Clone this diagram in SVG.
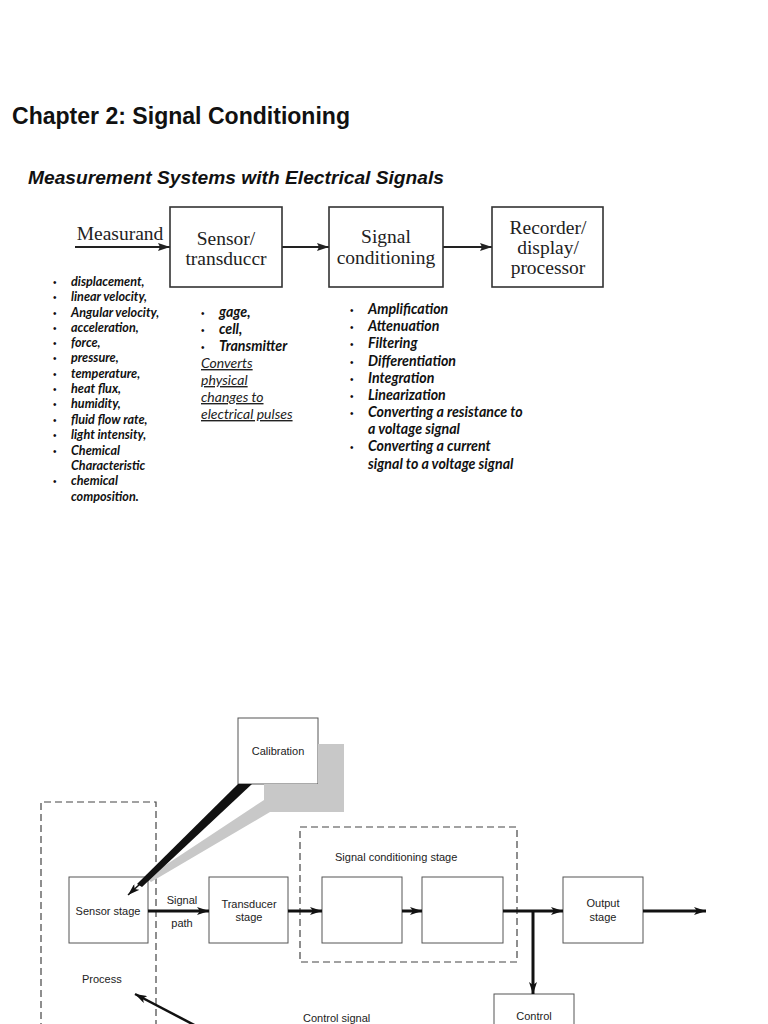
<svg xmlns="http://www.w3.org/2000/svg" width="768" height="1024" viewBox="0 0 768 1024">
<style>
.title{font-family:"Liberation Sans",Arial,sans-serif;font-weight:bold;font-size:23px;fill:#111}
.sub{font-family:"Liberation Sans",Arial,sans-serif;font-weight:bold;font-style:italic;font-size:18.5px;fill:#111}
.serif{font-family:"Liberation Serif","Times New Roman",serif;font-size:19.5px;fill:#222;text-anchor:middle}
.tbox{fill:#fff;stroke:#333;stroke-width:1.6}
.l1{font-family:Lato,"Liberation Sans",sans-serif;font-weight:bold;font-style:italic;font-size:12.6px;fill:#111}
.l2{font-family:Lato,"Liberation Sans",sans-serif;font-weight:bold;font-style:italic;font-size:14.2px;fill:#111}
.u2{font-family:Lato,"Liberation Sans",sans-serif;font-style:italic;font-size:14px;fill:#222;text-decoration:underline}
.bul{font-family:"Liberation Sans",Arial,sans-serif;font-size:10px;fill:#111}
.bbox{fill:#fff;stroke:#555;stroke-width:1}
.dash{fill:none;stroke:#444;stroke-width:1.2;stroke-dasharray:7,4}
.bt{font-family:"Liberation Sans",Arial,sans-serif;font-size:11px;fill:#222}
.btm{font-family:"Liberation Sans",Arial,sans-serif;font-size:11px;fill:#222;text-anchor:middle}
.thick{stroke:#111;stroke-width:3;fill:none;marker-end:url(#ah)}
.thin{stroke:#222;stroke-width:2;fill:none;marker-end:url(#ah2)}
</style>
<defs>
<marker id="ah" markerUnits="userSpaceOnUse" viewBox="0 0 12 8" refX="12" refY="4" markerWidth="12" markerHeight="8" orient="auto">
<path d="M0,0 L12,4 L0,8 L3,4 Z" fill="#111"/>
</marker>
<marker id="ah2" markerUnits="userSpaceOnUse" viewBox="0 0 12 8" refX="12" refY="4" markerWidth="12" markerHeight="8" orient="auto">
<path d="M0,0 L12,4 L0,8 L2,4 Z" fill="#222"/>
</marker>
</defs>
<rect width="768" height="1024" fill="#fff"/>

<text class="title" x="12" y="124" textLength="338" lengthAdjust="spacingAndGlyphs">Chapter 2: Signal Conditioning</text>
<text class="sub" x="28" y="184" textLength="416" lengthAdjust="spacingAndGlyphs">Measurement Systems with Electrical Signals</text>

<g id="top-connectors">
<line class="thin" x1="75" y1="247" x2="170" y2="247"/>
<line class="thin" x1="282" y1="247" x2="329" y2="247"/>
<line class="thin" x1="443" y1="247" x2="492" y2="247"/>
</g>
<g id="measurand"><text class="serif" x="120" y="240">Measurand</text></g>
<g id="sensor-transducer">
<rect class="tbox" x="170" y="207" width="112" height="80"/>
<text class="serif" x="226" y="245">Sensor/</text>
<text class="serif" x="226" y="265">transduccr</text>
</g>
<g id="signal-conditioning">
<rect class="tbox" x="329" y="207" width="114" height="80"/>
<text class="serif" x="386" y="243">Signal</text>
<text class="serif" x="386" y="264">conditioning</text>
</g>
<g id="recorder">
<rect class="tbox" x="492" y="207" width="111" height="80"/>
<text class="serif" x="548" y="234">Recorder/</text>
<text class="serif" x="548" y="254">display/</text>
<text class="serif" x="548" y="274">processor</text>
</g>

<g id="measurand-list">
<text class="bul" x="53" y="286">•</text><text class="l1" x="71" y="286">displacement,</text>
<text class="bul" x="53" y="301">•</text><text class="l1" x="71" y="301">linear velocity,</text>
<text class="bul" x="53" y="317">•</text><text class="l1" x="71" y="317">Angular velocity,</text>
<text class="bul" x="53" y="332">•</text><text class="l1" x="71" y="332">acceleration,</text>
<text class="bul" x="53" y="347">•</text><text class="l1" x="71" y="347">force,</text>
<text class="bul" x="53" y="362">•</text><text class="l1" x="71" y="362">pressure,</text>
<text class="bul" x="53" y="378">•</text><text class="l1" x="71" y="378">temperature,</text>
<text class="bul" x="53" y="393">•</text><text class="l1" x="71" y="393">heat flux,</text>
<text class="bul" x="53" y="408">•</text><text class="l1" x="71" y="408">humidity,</text>
<text class="bul" x="53" y="424">•</text><text class="l1" x="71" y="424">fluid flow rate,</text>
<text class="bul" x="53" y="439">•</text><text class="l1" x="71" y="439">light intensity,</text>
<text class="bul" x="53" y="455">•</text><text class="l1" x="71" y="455">Chemical</text>
<text class="l1" x="71" y="470">Characteristic</text>
<text class="bul" x="53" y="485">•</text><text class="l1" x="71" y="485">chemical</text>
<text class="l1" x="71" y="501">composition.</text>
</g>

<g id="sensor-list">
<text class="bul" x="201" y="317">•</text><text class="l2" x="219" y="317">gage,</text>
<text class="bul" x="201" y="334">•</text><text class="l2" x="219" y="334">cell,</text>
<text class="bul" x="201" y="351">•</text><text class="l2" x="219" y="351">Transmitter</text>
<text class="u2" x="201" y="368">Converts</text>
<text class="u2" x="201" y="385">physical</text>
<text class="u2" x="201" y="402">changes to</text>
<text class="u2" x="201" y="419">electrical pulses</text>
</g>

<g id="conditioning-list">
<text class="bul" x="350" y="314">•</text><text class="l2" x="368" y="314">Amplification</text>
<text class="bul" x="350" y="331">•</text><text class="l2" x="368" y="331">Attenuation</text>
<text class="bul" x="350" y="348">•</text><text class="l2" x="368" y="348">Filtering</text>
<text class="bul" x="350" y="366">•</text><text class="l2" x="368" y="366">Differentiation</text>
<text class="bul" x="350" y="383">•</text><text class="l2" x="368" y="383">Integration</text>
<text class="bul" x="350" y="400">•</text><text class="l2" x="368" y="400">Linearization</text>
<text class="bul" x="350" y="417">•</text><text class="l2" x="368" y="417">Converting a resistance to</text>
<text class="l2" x="368" y="434">a voltage signal</text>
<text class="bul" x="350" y="451">•</text><text class="l2" x="368" y="451">Converting a current</text>
<text class="l2" x="368" y="469">signal to a voltage signal</text>
</g>

<!-- Bottom diagram -->
<g id="process-boundary">
<path class="dash" d="M41,1030 L41,802 L156,802 L156,1030"/>
<text class="bt" x="82" y="983">Process</text>
</g>
<g id="signal-conditioning-stage">
<rect class="dash" x="300" y="827" width="217" height="135"/>
<text class="bt" x="335" y="861">Signal conditioning stage</text>
</g>

<g id="calibration">
<rect class="bbox" x="238" y="718" width="80" height="66"/>
<text class="btm" x="278" y="755">Calibration</text>
</g>
<g id="sensor-stage">
<rect class="bbox" x="69" y="877" width="79" height="66"/>
<text class="btm" x="108" y="915">Sensor stage</text>
</g>
<g id="transducer-stage">
<rect class="bbox" x="209" y="877" width="79" height="66"/>
<text class="btm" x="249" y="908">Transducer</text>
<text class="btm" x="249" y="921">stage</text>
</g>
<g id="conditioning-a"><rect class="bbox" x="322" y="877" width="80" height="66"/></g>
<g id="conditioning-b"><rect class="bbox" x="422" y="877" width="81" height="66"/></g>
<g id="output-stage">
<rect class="bbox" x="563" y="877" width="80" height="66"/>
<text class="btm" x="603" y="907">Output</text>
<text class="btm" x="603" y="921">stage</text>
</g>
<g id="control">
<rect class="bbox" x="494" y="994" width="80" height="40"/>
<text class="btm" x="534" y="1020">Control</text>
</g>

<g id="connectors">
<polygon points="318,744 344,744 344,812 270,812 151,882 146,878 264,800 264,784 318,784" fill="#c8c8c8"/>
<polygon points="238,784 252,784 142,887 137,884" fill="#111"/>
<line x1="140" y1="884" x2="128" y2="895" stroke="#111" stroke-width="1.5" marker-end="url(#ah)"/>
<line class="thick" x1="148" y1="911" x2="209" y2="911"/>
<line class="thick" x1="288" y1="911" x2="322" y2="911"/>
<line class="thick" x1="402" y1="911" x2="422" y2="911"/>
<line class="thick" x1="503" y1="911" x2="563" y2="911"/>
<line class="thick" x1="533" y1="911" x2="533" y2="994"/>
<line class="thick" x1="643" y1="911" x2="706" y2="911"/>
<line x1="200" y1="1028" x2="135" y2="994" stroke="#111" stroke-width="2.5" marker-end="url(#ah)"/>
<text class="bt" x="303" y="1022">Control signal</text>
<text class="btm" x="182" y="904">Signal</text>
<text class="btm" x="182" y="927">path</text>
</g>
</svg>
